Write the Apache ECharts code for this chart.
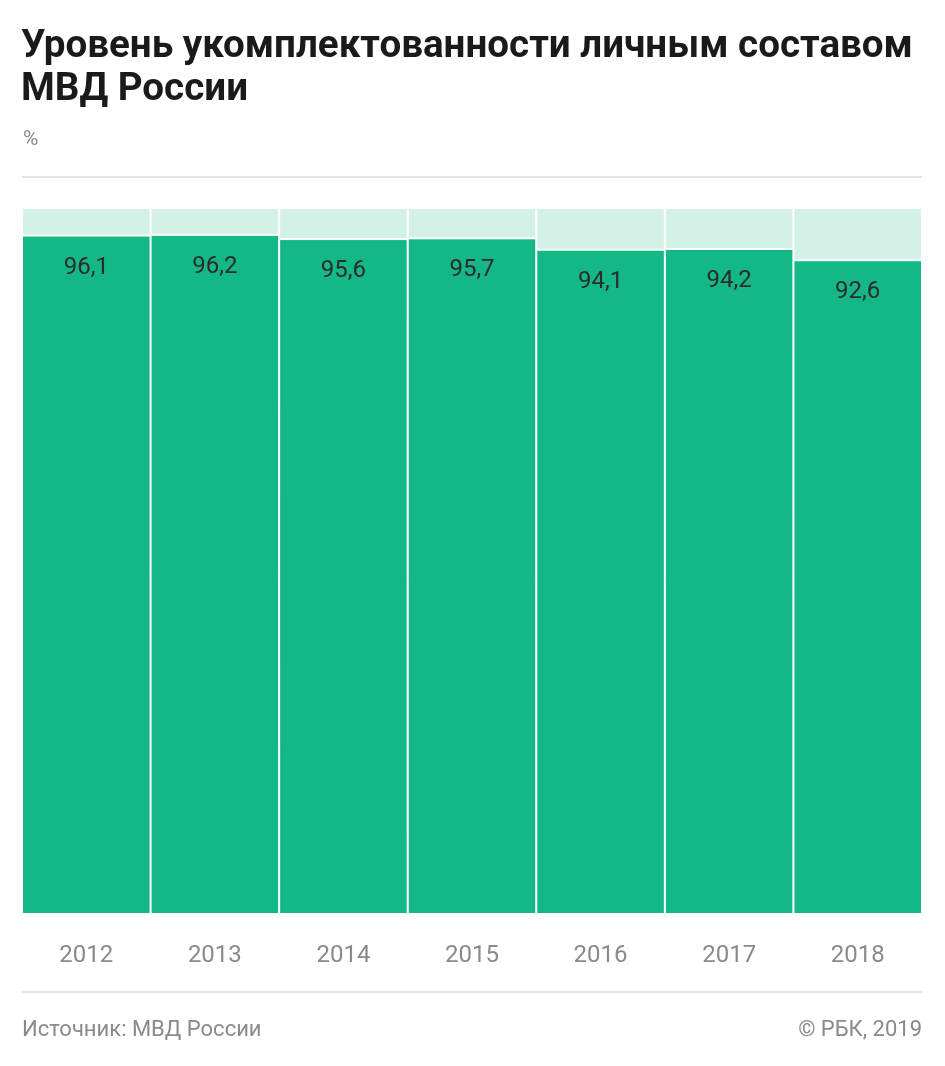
<!DOCTYPE html>
<html>
<head>
<meta charset="utf-8">
<script src="https://cdn.jsdelivr.net/npm/echarts@6/dist/echarts.min.js"></script>
<style>
html,body{margin:0;padding:0;background:#fff;}
#box{width:945px;height:1066px;}
</style>
</head>
<body>
<div id="box"></div>
<script>
// годы и уровень укомплектованности, %
var years = ['2012', '2013', '2014', '2015', '2016', '2017', '2018'];
var staffing = [96.1, 96.2, 95.6, 95.7, 94.1, 94.2, 92.6];
var full = 100;

var rest = staffing.map(function(v){ return +(full - v).toFixed(1); });

var chart = echarts.init(document.getElementById('box'));
var option = {
	backgroundColor: '#fff',
	animation: false,
	textStyle: { fontFamily: 'Roboto' },
	grid: { left: 22, right: 23, top: 208, bottom: 152 },
	xAxis: {
		type: 'category',
		data: years,
		axisLine: { show: false },
		axisTick: { show: false },
		axisLabel: { color: '#8a8a8a', fontSize: 24, margin: 30, fontFamily: 'Roboto' }
	},
	yAxis: {
		type: 'value',
		min: 0,
		max: full,
		show: false
	},
	series: [
		{
			type: 'bar',
			stack: 'all',
			data: staffing,
			barWidth: '100%',
			itemStyle: { color: '#14b886', borderColor: '#fff', borderWidth: 1 },
			label: {
				show: true,
				position: 'insideTop',
				distance: 20,
				color: '#2b2b2b',
				fontSize: 24,
				fontFamily: 'Roboto',
				formatter: function(p){ return String(p.value).replace('.', ','); }
			}
		},
		{
			type: 'bar',
			stack: 'all',
			data: rest,
			barWidth: '100%',
			itemStyle: { color: '#d3f1e6', borderColor: '#fff', borderWidth: 1 }
		}
	],
	graphic: [
		{ type: 'text', left: 21, top: 26, style: { text: 'Уровень укомплектованности личным составом\nМВД России', fill: '#1a1a1a', font: 'bold 38.6px Roboto', lineHeight: 43 } },
		{ type: 'text', left: 23, top: 129, style: { text: '%', fill: '#8a8a8a', font: '21px Roboto' } },
		{ type: 'line', shape: { x1: 22, y1: 177, x2: 922, y2: 177 }, style: { stroke: '#dddddd', lineWidth: 1.5 } },
		{ type: 'line', shape: { x1: 22, y1: 992, x2: 922, y2: 992 }, style: { stroke: '#dddddd', lineWidth: 1.5 } },
		{ type: 'text', left: 22, top: 1019, style: { text: 'Источник: МВД России', fill: '#8a8a8a', font: '22px Roboto' } },
		{ type: 'text', right: 23, top: 1019, style: { text: '© РБК, 2019', fill: '#8a8a8a', font: '22px Roboto' } }
	]
};
chart.setOption(option);
</script>
</body>
</html>
